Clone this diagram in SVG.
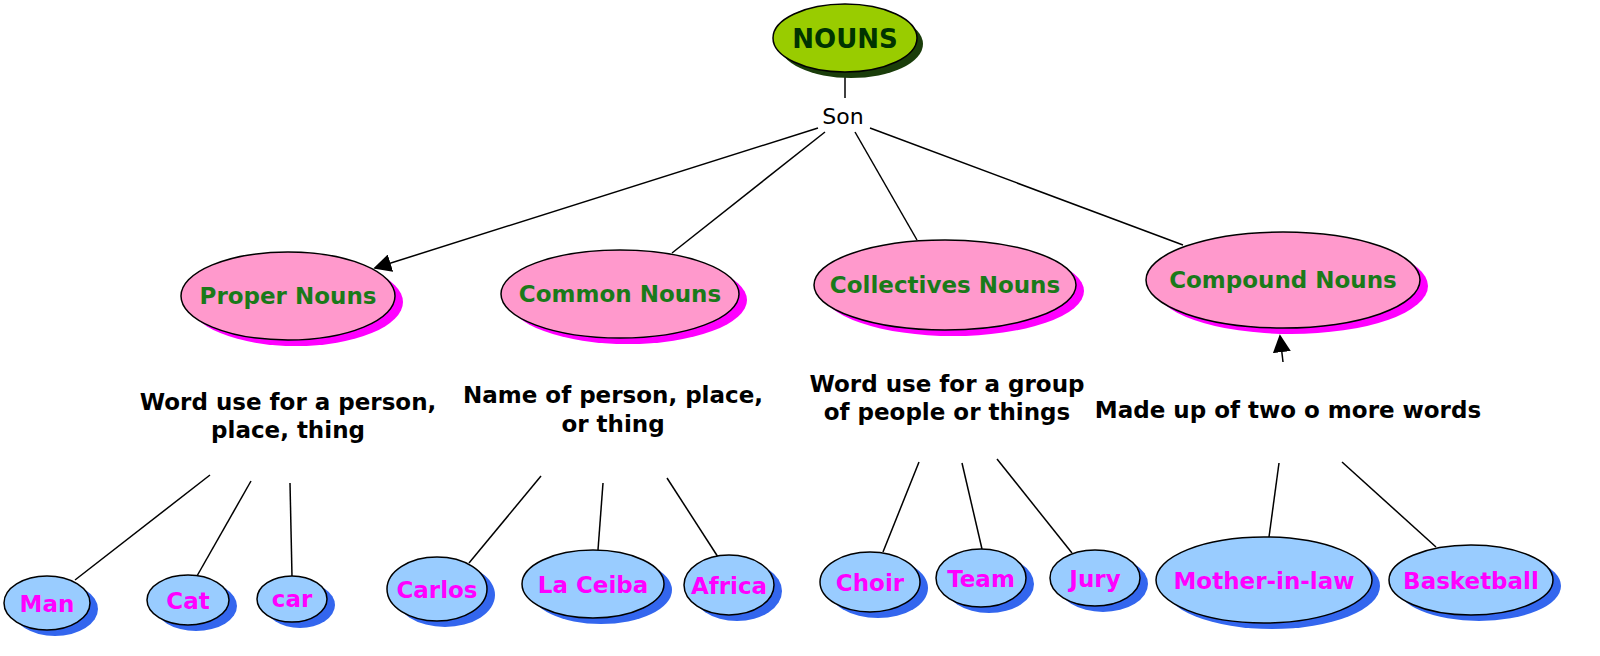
<svg xmlns="http://www.w3.org/2000/svg" width="1600" height="656" viewBox="0 0 1600 656">
<style>
text{font-family:"DejaVu Sans",Verdana,sans-serif;font-weight:bold;text-anchor:middle}
.c line{stroke:#000;stroke-width:1.5}
.cat{fill:#ff99cc;stroke:#000;stroke-width:1.5}
.cats{fill:#ff00ff}
.leaf{fill:#99ccff;stroke:#000;stroke-width:1.5}
.leafs{fill:#3366ee}
.ct{fill:#1a7a1a;font-size:23px}
.lt{fill:#ff00ff;font-size:23px}
.d{fill:#000;font-size:23px}
</style>
<defs><marker id="b" viewBox="0 0 10 10" refX="9" refY="5" markerWidth="18" markerHeight="18" markerUnits="userSpaceOnUse" orient="auto"><path d="M0,0L10,5L0,10z" fill="#000"/></marker></defs>
<rect width="1600" height="656" fill="#fff"/>
<g class="c" id="connectors">
<line x1="845" y1="75" x2="845" y2="98"/>
<line x1="818" y1="128" x2="375" y2="268" marker-end="url(#b)"/>
<line x1="825" y1="132" x2="672" y2="253"/>
<line x1="855" y1="132" x2="917" y2="240"/>
<line x1="870" y1="128" x2="1183" y2="245"/>
<line x1="1283" y1="362" x2="1280" y2="336" marker-end="url(#b)"/>
<line x1="210" y1="475" x2="75" y2="580"/>
<line x1="251" y1="481" x2="197" y2="576"/>
<line x1="290" y1="483" x2="292" y2="576"/>
<line x1="541" y1="476" x2="469" y2="563"/>
<line x1="603" y1="483" x2="598" y2="550"/>
<line x1="667" y1="478" x2="718" y2="557"/>
<line x1="919" y1="462" x2="883" y2="552"/>
<line x1="962" y1="463" x2="982" y2="549"/>
<line x1="997" y1="459" x2="1072" y2="553"/>
<line x1="1279" y1="463" x2="1269" y2="537"/>
<line x1="1342" y1="462" x2="1436" y2="547"/>
</g>
<g id="nouns"><ellipse cx="851" cy="44" rx="72" ry="34" fill="#1a3d0a"/><ellipse cx="845" cy="38" rx="72" ry="34" fill="#99cc00" stroke="#000" stroke-width="1.5"/><text x="845" y="48" fill="#003300" font-size="26">NOUNS</text></g>
<g id="son"><text x="843" y="124" style="font-weight:normal" font-size="22">Son</text></g>
<g id="proper"><ellipse class="cats" cx="296" cy="302" rx="107" ry="44"/><ellipse class="cat" cx="288" cy="296" rx="107" ry="44"/><text class="ct" x="288" y="304">Proper Nouns</text></g>
<g id="common"><ellipse class="cats" cx="628" cy="300" rx="119" ry="44"/><ellipse class="cat" cx="620" cy="294" rx="119" ry="44"/><text class="ct" x="620" y="302">Common Nouns</text></g>
<g id="collectives"><ellipse class="cats" cx="953" cy="291" rx="131" ry="45"/><ellipse class="cat" cx="945" cy="285" rx="131" ry="45"/><text class="ct" x="945" y="293">Collectives Nouns</text></g>
<g id="compound"><ellipse class="cats" cx="1291" cy="286" rx="137" ry="48"/><ellipse class="cat" cx="1283" cy="280" rx="137" ry="48"/><text class="ct" x="1283" y="288">Compound Nouns</text></g>
<g id="d1"><text class="d" x="288" y="410">Word use for a person,</text><text class="d" x="288" y="438">place, thing</text></g>
<g id="d2"><text class="d" x="613" y="403">Name of person, place,</text><text class="d" x="613" y="432">or thing</text></g>
<g id="d3"><text class="d" x="947" y="392">Word use for a group</text><text class="d" x="947" y="420">of people or things</text></g>
<g id="d4"><text class="d" x="1288" y="418">Made up of two o more words</text></g>
<g id="man"><ellipse class="leafs" cx="55" cy="609" rx="43" ry="27"/><ellipse class="leaf" cx="47" cy="603" rx="43" ry="27"/><text class="lt" x="47" y="612">Man</text></g>
<g id="cat"><ellipse class="leafs" cx="196" cy="606" rx="41" ry="25"/><ellipse class="leaf" cx="188" cy="600" rx="41" ry="25"/><text class="lt" x="188" y="609">Cat</text></g>
<g id="car"><ellipse class="leafs" cx="300" cy="605" rx="35" ry="23"/><ellipse class="leaf" cx="292" cy="599" rx="35" ry="23"/><text class="lt" x="292" y="607">car</text></g>
<g id="carlos"><ellipse class="leafs" cx="445" cy="595" rx="50" ry="32"/><ellipse class="leaf" cx="437" cy="589" rx="50" ry="32"/><text class="lt" x="437" y="598">Carlos</text></g>
<g id="laceiba"><ellipse class="leafs" cx="601" cy="590" rx="71" ry="34"/><ellipse class="leaf" cx="593" cy="584" rx="71" ry="34"/><text class="lt" x="593" y="593">La Ceiba</text></g>
<g id="africa"><ellipse class="leafs" cx="737" cy="591" rx="45" ry="30"/><ellipse class="leaf" cx="729" cy="585" rx="45" ry="30"/><text class="lt" x="729" y="594">Africa</text></g>
<g id="choir"><ellipse class="leafs" cx="878" cy="588" rx="50" ry="30"/><ellipse class="leaf" cx="870" cy="582" rx="50" ry="30"/><text class="lt" x="870" y="591">Choir</text></g>
<g id="team"><ellipse class="leafs" cx="989" cy="584" rx="45" ry="29"/><ellipse class="leaf" cx="981" cy="578" rx="45" ry="29"/><text class="lt" x="981" y="587">Team</text></g>
<g id="jury"><ellipse class="leafs" cx="1103" cy="584" rx="45" ry="28"/><ellipse class="leaf" cx="1095" cy="578" rx="45" ry="28"/><text class="lt" x="1095" y="587">Jury</text></g>
<g id="motherinlaw"><ellipse class="leafs" cx="1272" cy="586" rx="108" ry="43"/><ellipse class="leaf" cx="1264" cy="580" rx="108" ry="43"/><text class="lt" x="1264" y="589">Mother-in-law</text></g>
<g id="basketball"><ellipse class="leafs" cx="1479" cy="586" rx="82" ry="35"/><ellipse class="leaf" cx="1471" cy="580" rx="82" ry="35"/><text class="lt" x="1471" y="589">Basketball</text></g>
</svg>
